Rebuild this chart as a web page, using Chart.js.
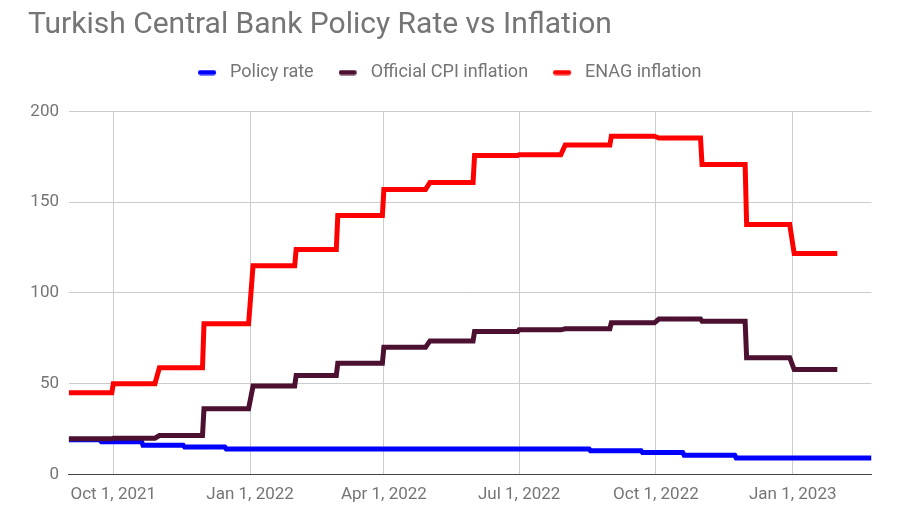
<!DOCTYPE html>
<html>
<head>
<meta charset="utf-8">
<script src="https://cdn.jsdelivr.net/npm/chart.js@4.4.1/dist/chart.umd.min.js"></script>
<style>
  html, body { margin: 0; padding: 0; background: #ffffff; }
  #wrap { width: 900px; height: 510px; }
</style>
</head>
<body>
<div id="wrap"><canvas id="c" width="900" height="510"></canvas></div>
<script>
// ---- data ----
const chartTitle = 'Turkish Central Bank Policy Rate vs Inflation';
const seriesNames = ['Policy rate', 'Official CPI inflation', 'ENAG inflation'];

// Policy rate levels: first and last business day of each level
const policyStart = ['2021-09-01','2021-09-23','2021-10-21','2021-11-18','2021-12-16','2022-08-18','2022-09-22','2022-10-20','2022-11-24'];
const policyEnd   = ['2021-09-22','2021-10-20','2021-11-17','2021-12-15','2022-08-17','2022-09-21','2022-10-19','2022-11-23','2023-02-23'];
const policyRate  = [19, 18, 16, 15, 14, 13, 12, 10.5, 9];

// Monthly inflation levels: first and last business day each value is shown
const inflStart = ['2021-09-01','2021-10-01','2021-11-01','2021-12-01','2022-01-03','2022-02-01','2022-03-01','2022-04-01','2022-05-02','2022-06-01','2022-07-01','2022-08-01','2022-09-01','2022-10-03','2022-11-01','2022-12-01','2023-01-02'];
const inflEnd   = ['2021-09-30','2021-10-29','2021-11-30','2021-12-31','2022-01-31','2022-02-28','2022-03-31','2022-04-29','2022-05-31','2022-06-30','2022-07-29','2022-08-31','2022-09-30','2022-10-31','2022-11-30','2022-12-30','2023-01-31'];
const cpiInflation  = [19.58, 19.89, 21.31, 36.08, 48.69, 54.44, 61.14, 69.97, 73.50, 78.62, 79.60, 80.21, 83.45, 85.51, 84.39, 64.27, 57.68];
const enagInflation = [45.0, 49.9, 58.7, 83.0, 114.9, 123.8, 142.6, 156.9, 160.8, 175.6, 176.0, 181.4, 186.3, 185.3, 170.7, 137.6, 121.6];

const xMinDate = '2021-09-01';
const xMaxDate = '2023-02-23';
const xTickDates  = ['2021-10-01','2022-01-01','2022-04-01','2022-07-01','2022-10-01','2023-01-01'];
const xTickLabels = ['Oct 1, 2021','Jan 1, 2022','Apr 1, 2022','Jul 1, 2022','Oct 1, 2022','Jan 1, 2023'];
const yTickValues = [0, 50, 100, 150, 200];

const colors = ['#0000ff', '#4c1130', '#ff0000'];

// ---- helpers ----
function toDay(s) {
  return Date.UTC(+s.slice(0, 4), +s.slice(5, 7) - 1, +s.slice(8, 10)) / 86400000;
}
function levels(starts, ends, vals) {
  const pts = [];
  for (let i = 0; i < vals.length; i++) {
    pts.push({ x: toDay(starts[i]), y: vals[i] });
    pts.push({ x: toDay(ends[i]), y: vals[i] });
  }
  return pts;
}
function swatch(color) {
  const c = document.createElement('canvas');
  c.width = 23; c.height = 6;
  const g = c.getContext('2d');
  g.fillStyle = color;
  g.beginPath();
  if (g.roundRect) g.roundRect(0, 0.5, 18, 5, 2.5); else g.rect(0, 0.5, 18, 5);
  g.fill();
  return c;
}

Chart.defaults.font.family = 'Roboto, "Noto Sans", sans-serif';
Chart.defaults.color = '#757575';

const datasets = [
  { label: seriesNames[0], data: levels(policyStart, policyEnd, policyRate), order: 3 },
  { label: seriesNames[1], data: levels(inflStart, inflEnd, cpiInflation), order: 2 },
  { label: seriesNames[2], data: levels(inflStart, inflEnd, enagInflation), order: 1 }
].map((d, i) => Object.assign(d, {
  borderColor: colors[i],
  backgroundColor: colors[i],
  borderWidth: 5,
  pointRadius: 0,
  pointHoverRadius: 0,
  tension: 0,
  fill: false,
  borderJoinStyle: 'miter',
  borderCapStyle: 'butt'
}));

new Chart(document.getElementById('c'), {
  type: 'line',
  data: { datasets },
  options: {
    responsive: false,
    animation: false,
    devicePixelRatio: 1,
    layout: { padding: { left: 28, right: 28.5, top: 0, bottom: 5.3 } },
    plugins: {
      tooltip: { enabled: false },
      title: {
        display: true,
        text: chartTitle,
        align: 'start',
        color: '#757575',
        font: { size: 30, weight: 'normal', lineHeight: 1 },
        padding: { top: 10.5, bottom: -2 }
      },
      legend: {
        display: true,
        position: 'top',
        align: 'center',
        labels: {
          usePointStyle: true,
          pointStyleWidth: 23,
          padding: 25,
          color: '#757575',
          font: { size: 18 },
          generateLabels: (chart) => chart.data.datasets.map((ds, i) => ({
            text: ds.label,
            fillStyle: colors[i],
            strokeStyle: colors[i],
            lineWidth: 0,
            pointStyle: swatch(colors[i]),
            hidden: false,
            datasetIndex: i,
            fontColor: '#757575'
          }))
        }
      },
      subtitle: {
        display: true,
        text: '',
        weight: 500,
        font: { size: 10, lineHeight: 1.2 },
        padding: { top: 0, bottom: 7.8 }
      }
    },
    scales: {
      x: {
        type: 'linear',
        min: toDay(xMinDate),
        max: toDay(xMaxDate),
        afterBuildTicks: (scale) => { scale.ticks = xTickDates.map(d => ({ value: toDay(d) })); },
        afterFit: (scale) => { scale.height = 30.4; },
        ticks: {
          autoSkip: false,
          maxRotation: 0,
          padding: 10,
          color: '#757575',
          font: { size: 17 },
          callback: (v, i) => xTickLabels[i]
        },
        grid: { color: '#cccccc', lineWidth: 1, drawTicks: false },
        border: { display: true, color: '#444444', width: 1 }
      },
      y: {
        min: 0,
        max: 200,
        afterBuildTicks: (scale) => { scale.ticks = yTickValues.map(v => ({ value: v })); },
        afterFit: (scale) => { scale.width = 40.7; },
        ticks: {
          padding: 9.7,
          color: '#757575',
          font: { size: 17 }
        },
        grid: {
          color: (ctx) => (ctx.tick && ctx.tick.value === 0 ? '#444444' : '#cccccc'),
          lineWidth: 1,
          drawTicks: false
        },
        border: { display: false }
      }
    }
  }
});
</script>
</body>
</html>
